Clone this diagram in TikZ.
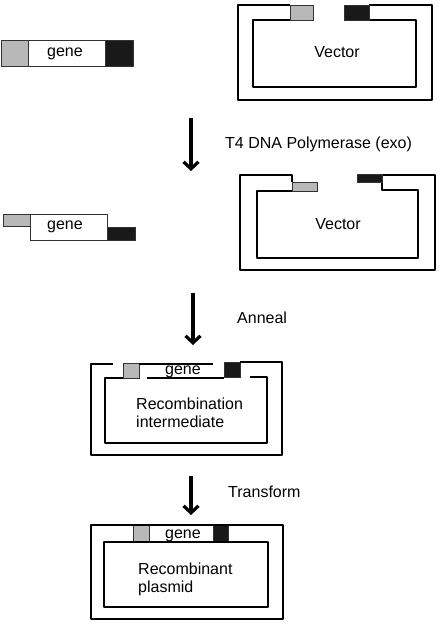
\documentclass[tikz,border=0pt]{standalone}
\usepackage{fontspec}
\setmainfont{Liberation Sans}
\usetikzlibrary{arrows.meta}
\definecolor{endgray}{gray}{0.72}
\definecolor{endblack}{gray}{0.1}

\begin{document}
\begin{tikzpicture}[x=1pt,y=-1pt,
        strand/.style={line width=2.8pt,line join=round},
        lbox/.style={draw=black!80,line width=0.7pt},
        steparrow/.style={line width=3.2pt,-{Straight Barb[length=7pt,width=15pt,line width=3.2pt]}},
        lbl/.style={font=\fontsize{16}{18}\selectfont,inner sep=0pt}]
    \useasboundingbox (0,0) rectangle (440,624);

    % gene and vector
    \draw[lbox,fill=endgray] (1,40) rectangle (28,66);
    \draw[lbox,fill=white] (28,40) rectangle (105,66);
    \draw[lbox,fill=endblack] (105,40) rectangle (133,66);
    \node[lbl,anchor=base] (gene1) at (65,56) {gene};

    \draw[strand] (290,5) -- (238,5) -- (238,100) -- (432,100) -- (432,5) -- (369,5);
    \draw[strand] (313,20) -- (253,20) -- (253,87) -- (416,87) -- (416,20) -- (344,20);
    \draw[lbox,fill=endgray] (290,5) rectangle (313,20);
    \draw[lbox,fill=endblack] (344,5) rectangle (369,20);
    \node[lbl,anchor=base] (vec1) at (337,57) {Vector};

    % exonuclease step
    \coordinate (exoTop) at (191,118);
    \coordinate (exoTip) at (191,171);
    \draw[steparrow] (exoTop) -- (exoTip);
    \node[lbl,anchor=base west] (exo) at (225,148) {T4 DNA Polymerase (exo)};

    \draw[lbox,fill=endgray] (3,214) rectangle (30,226);
    \draw[lbox,fill=white] (30,214) rectangle (107,240);
    \draw[lbox,fill=endblack] (107,227) rectangle (135,240);
    \node[lbl,anchor=base] (gene2) at (65,229) {gene};

    \draw[strand] (292,182) -- (292,175) -- (240,175) -- (240,270) -- (435,270) -- (435,175) -- (382,175);
    \draw[strand] (317,191) -- (257,191) -- (257,258) -- (418,258) -- (418,190) -- (382,190) -- (382,182);
    \draw[lbox,fill=endgray] (292,182) rectangle (317,191);
    \draw[lbox,fill=endblack] (357,174) rectangle (382,182);
    \node[lbl,anchor=base] (vec2) at (338,229) {Vector};

    % annealing
    \coordinate (annTop) at (193,293);
    \coordinate (annTip) at (193,345);
    \draw[steparrow] (annTop) -- (annTip);
    \node[lbl,anchor=base west] (ann) at (237,323) {Anneal};

    \node[lbl,anchor=base] (gene3) at (183,374) {gene};
    \draw[lbox,fill=endgray] (123,363) rectangle (139,378);
    \draw[lbox,fill=endblack] (224,362) rectangle (240,377);
    \draw[strand] (113,364) -- (91,364) -- (91,455) -- (282,455) -- (282,362) -- (240,362);
    \draw[strand] (123,378) -- (105,378) -- (105,443) -- (267,443) -- (267,377) -- (250,377);
    \draw[strand] (139,364) -- (213,364);
    \draw[strand] (147,378) -- (224,378);
    \node[lbl,align=left,anchor=north west] (inter) at (136,397.5) {Recombination\\intermediate};

    % transformation
    \coordinate (trTop) at (191,476);
    \coordinate (trTip) at (191,515);
    \draw[steparrow] (trTop) -- (trTip);
    \node[lbl,anchor=base west] (tr) at (228,497) {Transform};

    \draw[lbox,fill=endgray] (133,525) rectangle (149,542);
    \draw[lbox,fill=white] (149,525) rectangle (213,542);
    \draw[lbox,fill=endblack] (213,525) rectangle (228,542);
    \node[lbl,anchor=base] (gene4) at (183,538) {gene};
    \draw[strand] (91,525) rectangle (283,619);
    \draw[strand] (104,542) rectangle (268,607);
    \node[lbl,align=left,anchor=north west] (plasmid) at (138,562.5) {Recombinant\\plasmid};
\end{tikzpicture}
\end{document}
